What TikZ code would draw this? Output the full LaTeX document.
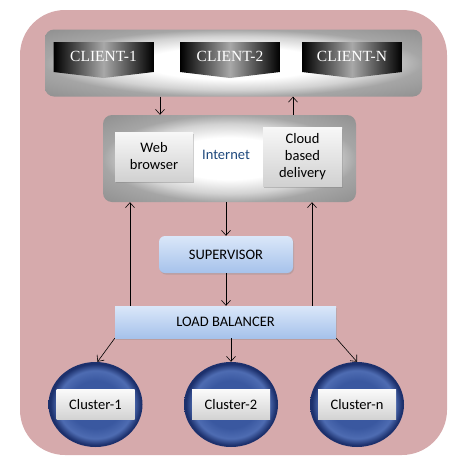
\documentclass[tikz,border=0pt]{standalone}
\usepackage{fontspec}
\setmainfont{Carlito}
\newfontfamily\clientfont{Liberation Serif}
\usetikzlibrary{shapes.geometric,shadows,calc,arrows.meta}
\definecolor{pinkbg}{RGB}{214,170,172}
\definecolor{blueTop}{RGB}{218,231,249}
\definecolor{blueBot}{RGB}{166,194,235}
\definecolor{ballIn}{RGB}{78,108,178}
\definecolor{ballMid}{RGB}{58,88,160}
\definecolor{ballOut}{RGB}{28,48,108}
\definecolor{inettext}{RGB}{31,73,125}
\pgfdeclareradialshading{panelshade}{\pgfpoint{0bp}{0bp}}{color(0bp)=(white); color(12bp)=(white); color(20bp)=(gray!35); color(25bp)=(gray!70); color(36bp)=(gray!88); color(50bp)=(gray!90)}
\pgfdeclareradialshading{ballshade}{\pgfpoint{0bp}{0bp}}{color(0bp)=(ballMid); color(14bp)=(ballMid); color(20bp)=(ballIn); color(24bp)=(ballOut); color(50bp)=(ballOut)}
\tikzset{
  graypanel/.style={rounded corners=9pt, shading=panelshade, draw=none},
  innerbox/.style={draw=none, top color=gray!6, bottom color=gray!36, align=center,
      font=\fontsize{14.5}{17}\selectfont, drop shadow={shadow xshift=1pt, shadow yshift=-1.5pt, opacity=0.4}},
  clientshape/.style={draw=none, left color=black, right color=black, middle color=gray!68},
  bluebox/.style={draw=none, top color=blueTop, bottom color=blueBot,
      font=\fontsize{14.5}{16}\selectfont, drop shadow={shadow xshift=1pt, shadow yshift=-1.5pt, opacity=0.3}},
  ball/.style={ellipse, draw=none, minimum width=94pt, minimum height=85pt, shading=ballshade},
  tag/.style={draw=none, top color=gray!4, bottom color=gray!35, minimum width=78pt, minimum height=30pt,
      font=\fontsize{14.5}{16}\selectfont},
  arr/.style={-{Straight Barb[length=5pt,width=9pt]}, line width=0.6pt, black}
}
\begin{document}
\begin{tikzpicture}[x=1pt,y=-1pt]
\useasboundingbox (0,0) rectangle (453,461);
% background
\fill[pinkbg, rounded corners=45pt] (20,10) rectangle (447,455);
% client panel
\node[graypanel, minimum width=377pt, minimum height=67pt, inner sep=0pt] (clients) at (233.5,63) {};
% client shapes
\foreach \n/\cx/\lab in {c1/103.5/CLIENT-1, c2/230/CLIENT-2, cn/352/CLIENT-N}{
  \shade[clientshape] (\cx-50,42) -- (\cx+50,42) -- (\cx+50,72) -- (\cx,78) -- (\cx-50,72) -- cycle;
  \node[font=\clientfont\fontsize{15.5}{17}\selectfont, text=white] (\n) at (\cx,56) {\lab};
}
% internet panel
\node[graypanel, minimum width=253pt, minimum height=87pt, inner sep=0pt] (inet) at (229.5,158.5) {};
\node[innerbox, minimum width=78pt, minimum height=49pt, inner sep=0pt] (web) at (154,156.5) {Web\\browser};
\node[innerbox, minimum width=79pt, minimum height=59pt, inner sep=0pt] (cloud) at (302.5,156.5) {Cloud\\based\\delivery};
\node[font=\fontsize{14.5}{16}\selectfont, text=inettext] (inetlabel) at (226,155) {Internet};
% supervisor and load balancer
\node[bluebox, rounded corners=6pt, minimum width=134pt, minimum height=37pt, inner sep=0pt] (sup) at (226,254.5) {SUPERVISOR};
\node[bluebox, minimum width=221pt, minimum height=32pt, inner sep=0pt] (lb) at (225.5,322) {LOAD BALANCER};
% clusters
\node[ball] (k1) at (95.5,404.5) {};
\node[ball] (k2) at (231,404.5) {};
\node[ball] (kn) at (357,404.5) {};
\node[tag] (t1) at (k1) {Cluster-1};
\node[tag] (t2) at (k2) {Cluster-2};
\node[tag] (tn) at (kn) {Cluster-n};
% helper coordinates
\coordinate (xa) at (160,0);
\coordinate (xb) at (293,0);
\coordinate (xc) at (130,0);
\coordinate (xd) at (226,0);
\coordinate (xe) at (312,0);
% connectors
\draw[arr] (clients.south -| xa) -- (inet.north -| xa);
\draw[arr] (inet.north -| xb) -- (clients.south -| xb);
\draw[arr] (lb.north -| xc) -- (inet.south -| xc);
\draw[arr] (inet.south -| xd) -- (sup.north -| xd);
\draw[arr] (lb.north -| xe) -- (inet.south -| xe);
\draw[arr] (sup.south -| xd) -- (lb.north -| xd);
\draw[arr] (lb.south west) -- ([xshift=2pt]k1.north);
\draw[arr] (lb.south -| k2) -- (k2.north);
\draw[arr] (lb.south east) -- (kn.north);
\end{tikzpicture}
\end{document}
